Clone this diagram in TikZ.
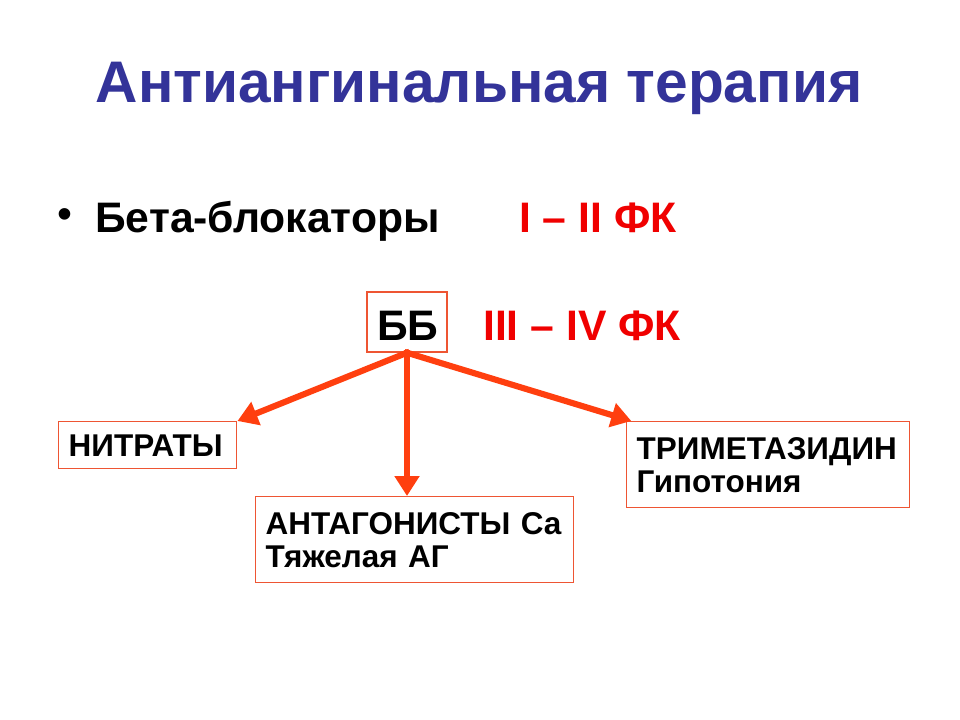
\documentclass[tikz,border=0pt]{standalone}
\usepackage{fontspec}
\setmainfont{Liberation Sans}
\usetikzlibrary{arrows.meta}
\definecolor{titleblue}{HTML}{333399}
\definecolor{arrowred}{HTML}{FF3F0F}
\definecolor{boxline}{HTML}{EE5533}
\definecolor{fkred}{HTML}{F00000}
\tikzset{
  txt/.style={inner sep=0pt, anchor=base west, font=\fontsize{32}{36}\selectfont\bfseries},
  boxnode/.style={draw=boxline, line width=1.1pt, anchor=north west, inner xsep=7.5pt, inner ysep=0pt,
     align=left, font=\fontsize{23.6}{24.8}\selectfont\bfseries},
  arr/.style={draw=arrowred, line width=4.6pt, -{Triangle[length=15pt,width=18pt]}, shorten <=-2pt},
}
\begin{document}
\begin{tikzpicture}[x=0.75pt,y=-0.75pt]
\useasboundingbox (0,0) rectangle (960,720);
\fill[white] (0,0) rectangle (960,720);
\node[inner sep=0pt, anchor=base, text=titleblue, font=\fontsize{44}{48}\selectfont\bfseries] (title) at (479,103) {Антиангинальная терапия};
\node[txt, font=\fontsize{32}{36}\selectfont] (bul) at (57,229) {•};
\node[txt] (bb1) at (95,233) {Бета-блокаторы};
\node[txt, text=fkred] (fk1) at (519,233) {I – II ФК};
\node[draw=boxline, line width=1.1pt, minimum width=60pt, minimum height=45pt, inner sep=0pt] (bb) at (407,322) {};
\node[txt] (bbtxt) at (377,340) {ББ};
\node[txt, text=fkred] (fk2) at (483,340) {III – IV ФК};
\node[boxnode, text width=118.5pt, minimum height=35.25pt] (nitr) at (58,421) {НИТРАТЫ};
\node[boxnode, text width=223.5pt, minimum height=64.5pt] (antag) at (255,496) {АНТАГОНИСТЫ Са\\Тяжелая АГ};
\node[boxnode, text width=197.25pt, minimum height=64.5pt] (trim) at (626,421) {ТРИМЕТАЗИДИН\\Гипотония};
\draw[arr] (bb.south) -- (nitr.north east);
\draw[arr] (bb.south) -- (bb.south |- antag.north);
\draw[arr] (bb.south) -- ([xshift=4pt]trim.north west);
\end{tikzpicture}
\end{document}
